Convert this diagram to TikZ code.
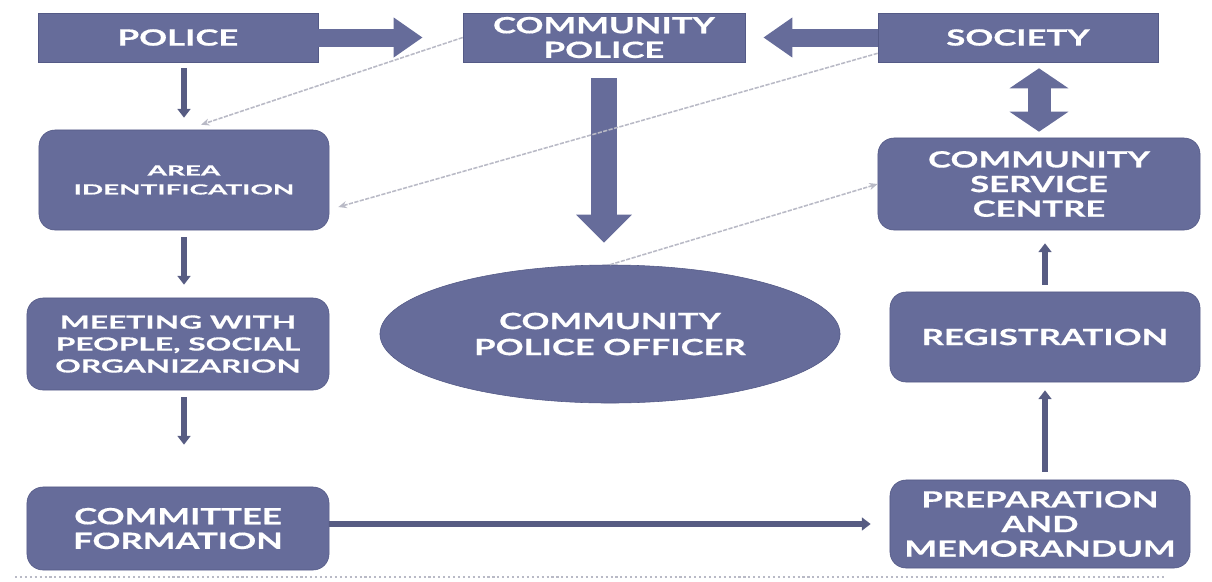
\documentclass[tikz,border=0pt]{standalone}
\usepackage{fontspec}
\usepackage{xcolor}
\usepackage{tikz}
\usetikzlibrary{shapes.geometric, arrows.meta, positioning, calc}
\newfontfamily\boxfont{Lato}[FakeStretch=1.55, BoldFeatures={FakeBold=0.6}]
\newfontfamily\widefont{Lato}[FakeStretch=1.75, BoldFeatures={FakeBold=0.6}]
\newfontfamily\widerfont{Lato}[FakeStretch=2.0, BoldFeatures={FakeBold=0.8}]
\definecolor{boxcolor}{RGB}{102,108,154}
\definecolor{edgecolor}{RGB}{84,90,134}
\definecolor{guidecolor}{RGB}{185,186,198}

\begin{document}
\begin{tikzpicture}[
    x=0.025cm, y=-0.025cm,
    topbox/.style={draw=edgecolor, fill=boxcolor, text=white, minimum height=1.225cm, inner sep=0pt, align=center, font=\boxfont\bfseries\fontsize{15.9}{17.5}\selectfont},
    stepbox/.style={draw=edgecolor, fill=boxcolor, text=white, rounded corners=0.4cm, inner sep=0pt, align=center, font=\boxfont\bfseries\fontsize{15.9}{17.5}\selectfont},
    officer/.style={ellipse, draw=edgecolor, fill=boxcolor, text=white, minimum width=11.5cm, minimum height=3.45cm, inner sep=0pt, align=center, font=\boxfont\bfseries\fontsize{15.9}{18.5}\selectfont},
    bigarrow/.style={draw=boxcolor, line width=0.45cm, -{Triangle[length=0.725cm, width=0.95cm]}},
    thinarrow/.style={draw=boxcolor!85!black, line width=3.6pt, -{Triangle[length=0.22cm, width=0.32cm]}},
    guide/.style={draw=guidecolor, line width=1.1pt, dash pattern=on 3pt off 1pt, -{Stealth[length=6pt, width=5pt]}}
]
    \useasboundingbox (0,0) rectangle (1212,581);

    % Top row
    \node[topbox, minimum width=7cm] (police) at (178,37.5) {POLICE};
    \node[topbox, minimum width=7.05cm] (compolice) at (604,37.5) {COMMUNITY\\POLICE};
    \node[topbox, minimum width=7cm] (society) at (1018,37.5) {SOCIETY};

    % Left column
    \node[stepbox, minimum width=7.25cm, minimum height=2.5cm, font=\widerfont\bfseries\fontsize{9.9}{13.5}\selectfont] (area) at (184,180) {AREA\\IDENTIFICATION};
    \node[stepbox, minimum width=7.55cm, minimum height=2.3cm, font=\widefont\bfseries\fontsize{12.9}{15.6}\selectfont] (meeting) at (178,344) {MEETING WITH\\PEOPLE, SOCIAL\\ORGANIZARION};
    \node[stepbox, minimum width=7.55cm, minimum height=2.075cm] (committee) at (178,528.5) {COMMITTEE\\FORMATION};

    % Middle
    \node[officer] (cpo) at (610,334) {COMMUNITY\\POLICE OFFICER};

    % Right column
    \node[stepbox, minimum width=8.05cm, minimum height=2.3cm] (csc) at (1039,184) {COMMUNITY\\SERVICE\\CENTRE};
    \node[stepbox, minimum width=7.75cm, minimum height=2.25cm] (registration) at (1045,337) {REGISTRATION};
    \node[stepbox, minimum width=7.5cm, minimum height=2.2cm] (prep) at (1040,524) {PREPARATION\\AND\\MEMORANDUM};

    % Block arrows
    \draw[bigarrow, shorten >=1cm] (police.east) -- (compolice.west);
    \draw[bigarrow, shorten >=0.45cm] (society.west) -- (compolice.east);
    \draw[bigarrow, line width=0.65cm, -{Triangle[length=0.7cm, width=1.35cm]}, shorten <=0.4cm, shorten >=0.55cm] (compolice.south) -- (compolice.south |- cpo.north);
    \draw[bigarrow, line width=0.575cm, {Triangle[length=0.5cm, width=1.45cm]}-{Triangle[length=0.5cm, width=1.45cm]}, shorten <=0.15cm, shorten >=0.15cm] (csc.north |- society.south) -- (csc.north);

    % Flow arrows
    \draw[thinarrow, shorten <=0.15cm, shorten >=0.3cm] (area.north |- police.south) -- (area.north);
    \draw[thinarrow, shorten <=0.175cm, shorten >=0.325cm] (area.south) -- (area.south |- meeting.north);
    \draw[thinarrow, shorten <=0.175cm, shorten >=1.05cm] (area.south |- meeting.south) -- (area.south |- committee.north);
    \draw[thinarrow, line width=4.3pt, shorten >=0.475cm] (committee.east |- prep.west) -- (prep.west);
    \draw[thinarrow, shorten <=0.2cm, shorten >=0.2cm] (registration.south |- prep.north) -- (registration.south);
    \draw[thinarrow, shorten <=0.175cm, shorten >=0.325cm] (registration.north) -- (registration.north |- csc.south);

    % Thin links
    \draw[guide] (compolice.west) -- ($(area.north)+(17,-5)$);
    \draw[guide] ($(society.south west)+(0,-9)$) -- ($(area.east)+(9,27)$);
    \draw[guide] (cpo.north) -- (csc.west);

    % Bottom rule
    \draw[guidecolor, line width=1.5pt, dotted] (15,577) -- (1165,577);
\end{tikzpicture}
\end{document}
